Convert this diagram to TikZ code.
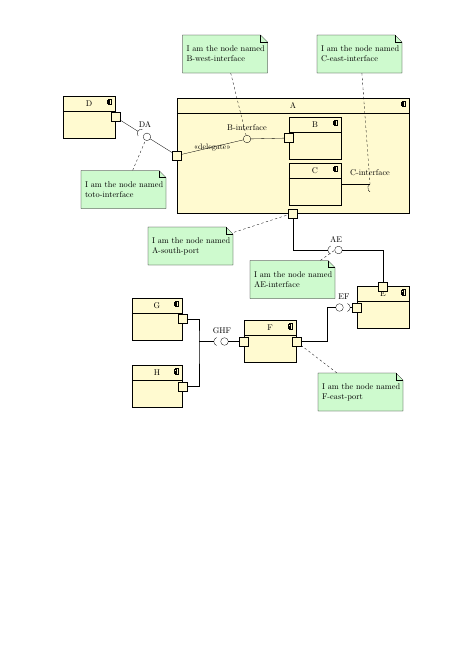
\documentclass[tikz,border=0pt]{standalone}
\usetikzlibrary{calc}
\definecolor{compfill}{RGB}{255,250,208}
\definecolor{notefill}{RGB}{206,250,206}
\def\pxu{0.44304mm}
\newcommand\bigtext{\fontsize{10.5}{12.4}\selectfont}
\tikzset{
  comp/.style={draw, fill=compfill, line width=0.4pt, inner sep=0pt},
  port/.style={draw, fill=compfill, line width=0.4pt, inner sep=0pt, minimum size=9*\pxu},
  ball/.style={draw, circle, line width=0.4pt, inner sep=0pt, minimum size=7.6*\pxu},
  notebody/.style={inner sep=0pt, minimum width=85*\pxu, minimum height=38*\pxu, text width=79*\pxu, align=left, font=\bigtext},
  notedash/.style={dashed, line width=0.4pt},
  lbl/.style={inner sep=0pt, font=\bigtext},
  wire/.style={line width=0.4pt},
}
% component box: name, cx, cy, width, height
\newcommand\umlcomp[5]{%
  \node[comp, minimum width=#4*\pxu, minimum height=#5*\pxu] (#1) at (#2,#3) {};
  \draw[wire] ($(#1.north west)+(0,15)$) -- ($(#1.north east)+(0,15)$);
  \node[lbl] (#1-title) at ($(#1.north)+(0,7.5)$) {#1};
  \draw[line width=0.5pt, fill=compfill] ($(#1.north east)+(-7,3)$) rectangle ++(3.5,5.5);
  \draw[line width=0.3pt, fill=compfill] ($(#1.north east)+(-8.2,4.2)$) rectangle ++(2.4,1.1);
  \draw[line width=0.3pt, fill=compfill] ($(#1.north east)+(-8.2,6.3)$) rectangle ++(2.4,1.1);
}
% note: name, cx, cy, text
\newcommand\umlnotebox[4]{%
  \filldraw[fill=notefill, line width=0.4pt] ($(#2,#3)+(-42.5,-19)$) -- ($(#2,#3)+(35.5,-19)$) -- ($(#2,#3)+(42.5,-12)$) -- ($(#2,#3)+(42.5,19)$) -- ($(#2,#3)+(-42.5,19)$) -- cycle;
  \draw[line width=0.4pt] ($(#2,#3)+(35.5,-19)$) -- ($(#2,#3)+(35.5,-12)$) -- ($(#2,#3)+(42.5,-12)$);
  \node[notebody] (#1) at ($(#2,#3)+(1,0)$) {#4};
}
% assembly (ball and socket): name, x, y, angle (socket side -> ball side), label
\newcommand\assembly[5]{%
  \coordinate (#1) at (#2,#3);
  \node[ball] (#1-ball) at ($(#1)+({#4}:3.5)$) {};
  \coordinate (#1-sock) at ($(#1)+({#4+180}:7.2)$);
  \draw[wire] (#1-sock) arc[start angle={#4+180}, delta angle=70, radius=4.2];
  \draw[wire] (#1-sock) arc[start angle={#4+180}, delta angle=-70, radius=4.2];
  \node[lbl] (#1-label) at ($(#1)+(1,-10.5)$) {#5};
}
\begin{document}
\begin{tikzpicture}[x=\pxu, y=-\pxu]
\useasboundingbox (0,0) rectangle (474,670);
\fill[white] (0,0) rectangle (474,670);

% components
\umlcomp{A}{293}{155.5}{232}{115}
\umlcomp{B}{315}{138}{52}{42}
\umlcomp{C}{315}{184}{52}{42}
\umlcomp{D}{89}{117}{52}{42}
\umlcomp{E}{383}{307.5}{52}{42}
\umlcomp{F}{270}{341.5}{52}{42}
\umlcomp{G}{157}{319}{50}{42}
\umlcomp{H}{157}{386.5}{50}{42}

% ports
\node[port] (D-east) at (D.east) {};
\node[port] (A-west) at (A.west) {};
\node[port] (A-south) at (A.south) {};
\node[port] (B-west) at (B.west) {};
\node[port] (E-north) at (E.north) {};
\node[port] (E-west) at (E.west) {};
\node[port] (F-west) at (F.west) {};
\node[port] (F-east) at (F.east) {};
\node[port] (G-east) at (G.east) {};
\node[port] (H-east) at (H.east) {};

% interfaces
\node[ball] (Bif) at (247,139) {};
\node[lbl] (Bif-label) at (247,128) {B-interface};
\coordinate (Cif) at (370,184);
\draw[wire] (Cif) arc[start angle=240, end angle=120, radius=4.5];
\node[lbl] (Cif-label) at (370,173) {C-interface};

\assembly{DA}{144}{135}{31.8}{DA}
\assembly{AE}{335}{250}{0}{AE}
\assembly{EF}{343}{307.5}{180}{EF}
\assembly{GHF}{221}{341.5}{0}{GHF}

% connectors
\draw[wire] (D-east) -- (DA-sock);
\draw[wire] (DA-ball) -- (A-west);
\draw[wire] (A-west) -- node[inner sep=0pt, font=\normalsize] {«delegate»} (Bif);
\draw[wire] (Bif) -- (B-west);
\draw[wire] (C.east) -- (Cif);
\draw[wire] (A-south) |- (AE-sock);
\draw[wire] (AE-ball) -| (E-north);
\coordinate (EFbend) at (327,307.5);
\draw[wire] (F-east) -| (EFbend) -- (EF-ball);
\draw[wire] (EF-sock) -- (E-west);
\coordinate (GHFj) at (199,341.5);
\draw[wire] (G-east) -| (GHFj) |- (H-east);
\draw[wire] (GHFj) -- (GHF-sock);
\draw[wire] (GHF-ball) -- (F-west);

% notes
\umlnotebox{Bnote}{225}{54}{I am the node named\\B-west-interface}
\umlnotebox{Cnote}{359.5}{54}{I am the node named\\C-east-interface}
\umlnotebox{totonote}{123.5}{189.5}{I am the node named\\toto-interface}
\umlnotebox{Asnote}{190.5}{246}{I am the node named\\A-south-port}
\umlnotebox{AEnote}{292.5}{279.5}{I am the node named\\AE-interface}
\umlnotebox{Fnote}{360.5}{392}{I am the node named\\F-east-port}

\draw[notedash] (Bnote) -- (Bif);
\draw[notedash] (Cnote) -- (Cif);
\draw[notedash] (totonote) -- (DA-ball);
\draw[notedash] (Asnote) -- (A-south);
\draw[notedash] (AEnote) -- (AE);
\draw[notedash] (Fnote) -- (F-east);
\end{tikzpicture}
\end{document}
